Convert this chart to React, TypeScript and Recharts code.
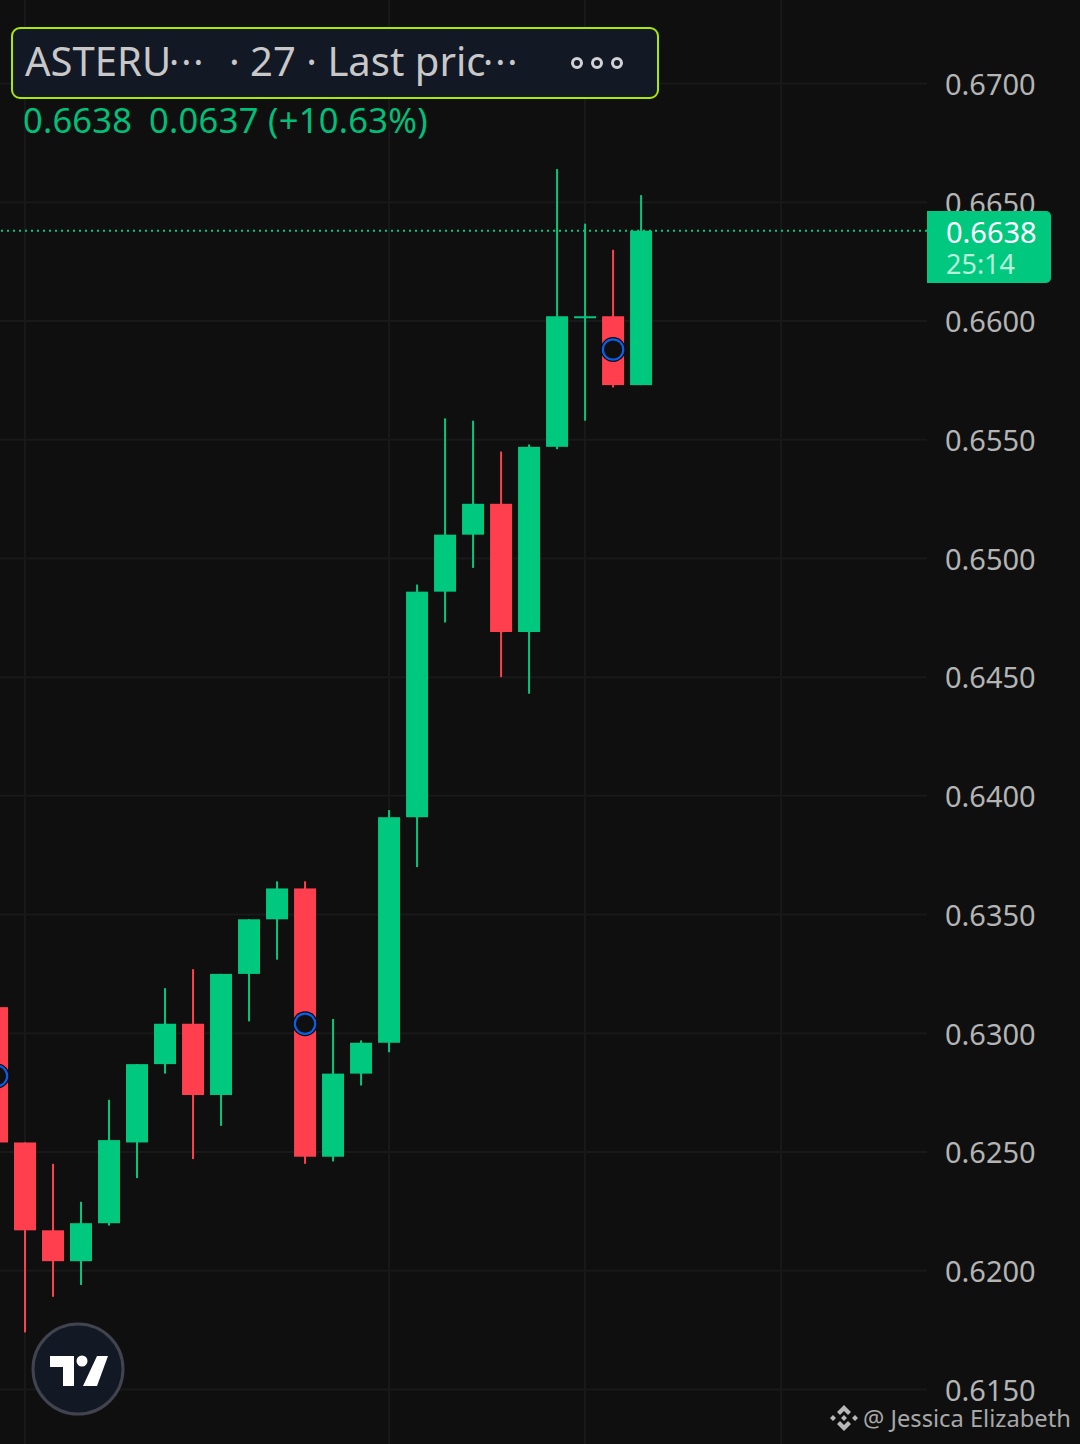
import { Bar, CartesianGrid, ComposedChart, ReferenceDot, ReferenceLine, XAxis, YAxis } from "recharts";

const FONT = '"Noto Sans", sans-serif';
const GREEN = "#00c97f";
const RED = "#ff3f4e";
const BG = "#0f0f0f";

const opens = [0.6311, 0.6254, 0.6217, 0.6204, 0.622, 0.6254, 0.6287, 0.6304, 0.6274, 0.6325, 0.6348, 0.6361, 0.6248, 0.6283, 0.6296, 0.6391, 0.6486, 0.651, 0.6523, 0.6469, 0.6547, 0.6602, 0.6602, 0.6573];
const highs = [0.6311, 0.6254, 0.6245, 0.6229, 0.6272, 0.6287, 0.6319, 0.6327, 0.6325, 0.6348, 0.6364, 0.6364, 0.6306, 0.6297, 0.6394, 0.6489, 0.6559, 0.6558, 0.6545, 0.6548, 0.6664, 0.6641, 0.663, 0.6653];
const lows = [0.6253, 0.6174, 0.6189, 0.6194, 0.6219, 0.6239, 0.6283, 0.6247, 0.6261, 0.6305, 0.6331, 0.6245, 0.6246, 0.6278, 0.6292, 0.637, 0.6473, 0.6496, 0.645, 0.6443, 0.6546, 0.6558, 0.6572, 0.6573];
const closes = [0.6254, 0.6217, 0.6204, 0.622, 0.6255, 0.6287, 0.6304, 0.6274, 0.6325, 0.6348, 0.6361, 0.6248, 0.6283, 0.6296, 0.6391, 0.6486, 0.651, 0.6523, 0.6469, 0.6547, 0.6602, 0.6602, 0.6573, 0.6638];

const priceTicks = [0.615, 0.62, 0.625, 0.63, 0.635, 0.64, 0.645, 0.65, 0.655, 0.66, 0.665, 0.67];
const gridIndexes = [1, 14, 21, 28];
const markerIndexes = [0, 11, 22];
const markerPrices = [0.6282, 0.6304, 0.6588];
const lastPrice = 0.6638;

const candles = opens.map((open, i) => ({
  index: i,
  open,
  high: highs[i],
  low: lows[i],
  close: closes[i],
  range: [lows[i], highs[i]],
}));

function Candle(props: any) {
  const { x, y, width, height, payload } = props;
  const { open, close, high, low } = payload;
  const color = close >= open ? GREEN : RED;
  const toY = (price: number) => y + ((high - price) / (high - low)) * height;
  const top = toY(Math.max(open, close));
  const bottom = toY(Math.min(open, close));
  return (
    <g>
      <rect x={x + width / 2 - 1} y={y} width={2} height={height} fill={color} />
      <rect x={x} y={top} width={width} height={Math.max(bottom - top, 2)} fill={color} />
    </g>
  );
}

function Marker(props: any) {
  const { cx, cy } = props;
  return (
    <g>
      <circle cx={cx} cy={cy} r={12.5} fill="#06080c" />
      <circle cx={cx} cy={cy} r={10.2} fill={BG} stroke="#0b5fe6" strokeWidth={2.2} />
    </g>
  );
}

function Overlay() {
  const label = { position: "absolute", whiteSpace: "pre", fontFamily: FONT } as const;
  return (
    <>
      <div
        style={{
          position: "absolute",
          left: 11,
          top: 27,
          width: 644,
          height: 68,
          border: "2px solid #a9e800",
          borderRadius: 9,
          background: "#131825",
        }}
      />
      <div style={{ ...label, left: 25, top: 35, fontSize: 40, lineHeight: "52px", color: "#c8c8c8" }}>ASTERU</div>
      <div style={{ ...label, left: 169, top: 35, fontSize: 38, lineHeight: "52px", letterSpacing: 2, color: "#c8c8c8" }}>···</div>
      <div style={{ ...label, left: 229, top: 35, fontSize: 40, lineHeight: "52px", color: "#c8c8c8" }}>· 27 · Last pric</div>
      <div style={{ ...label, left: 483, top: 35, fontSize: 38, lineHeight: "52px", letterSpacing: 2, color: "#c8c8c8" }}>···</div>
      <svg style={{ position: "absolute", left: 565, top: 50 }} width={66} height={26}>
        {[12, 32, 52].map((cx) => (
          <circle key={cx} cx={cx} cy={13} r={4.5} fill="none" stroke="#d2d2d6" strokeWidth={3} />
        ))}
      </svg>
      <div style={{ ...label, left: 23, top: 97, fontSize: 34.5, lineHeight: "46px", letterSpacing: 0.2, color: "#00bf79" }}>0.6638</div>
      <div style={{ ...label, left: 149, top: 97, fontSize: 34.5, lineHeight: "46px", letterSpacing: 0.3, color: "#00bf79" }}>0.0637 (+10.63%)</div>

      <div
        style={{
          position: "absolute",
          left: 927,
          top: 211,
          width: 124,
          height: 72,
          background: GREEN,
          borderRadius: "0 5px 5px 0",
        }}
      />
      <div style={{ ...label, left: 946, top: 212, fontSize: 29, lineHeight: "40px", color: "#ffffff" }}>0.6638</div>
      <div style={{ ...label, left: 946, top: 245, fontSize: 27, lineHeight: "38px", color: "#b8f0da" }}>25:14</div>

      <svg style={{ position: "absolute", left: 30, top: 1321 }} width={96} height={96} viewBox="30 1321 96 96">
        <circle cx={78} cy={1369} r={45} fill="#131825" stroke="#41444e" strokeWidth={3} />
        <path d="M50 1356H74V1386H63V1367H50Z" fill="#ffffff" />
        <circle cx={82} cy={1361} r={5.5} fill="#ffffff" />
        <path d="M97 1356H108L97 1386H83Z" fill="#ffffff" />
      </svg>

      <svg style={{ position: "absolute", left: 830, top: 1404 }} width={28} height={28} viewBox="0 0 28 28">
        <path d="M14 1L21 8L18 11L14 7L10 11L7 8Z M14 27L21 20L18 17L14 21L10 17L7 20Z M0 14L3 11L6 14L3 17Z M28 14L25 11L22 14L25 17Z M14 11L17 14L14 17L11 14Z" fill="#b8b8b8" />
      </svg>
      <div style={{ ...label, left: 863, top: 1401, fontSize: 23.7, lineHeight: "34px", color: "#a8a8a8" }}>@ Jessica Elizabeth</div>
    </>
  );
}

export default function App() {
  return (
    <div style={{ position: "absolute", left: 0, top: 0, width: 1080, height: 1444, background: BG, overflow: "hidden" }}>
      <ComposedChart width={1080} height={1444} data={candles} margin={{ top: 0, right: 0, bottom: 0, left: 0 }}>
        <CartesianGrid stroke="#191919" strokeWidth={2} verticalValues={gridIndexes} horizontalValues={priceTicks} />
        <XAxis type="number" dataKey="index" domain={[0.107, 33.21]} allowDataOverflow hide ticks={gridIndexes} />
        <YAxis
          orientation="right"
          width={153}
          domain={[0.6127, 0.67352]}
          allowDataOverflow
          ticks={priceTicks}
          interval={0}
          axisLine={false}
          tickLine={false}
          tickMargin={12}
          tick={{ fill: "#b4b4b4", fontSize: 29, fontFamily: FONT, dy: 1 }}
          tickFormatter={(v: number) => v.toFixed(4)}
        />
        <ReferenceLine y={lastPrice} stroke={GREEN} strokeWidth={2} strokeDasharray="2 4" />
        <Bar dataKey="range" barSize={22} shape={<Candle />} isAnimationActive={false} />
        {markerIndexes.map((idx, i) => (
          <ReferenceDot key={idx} x={idx} y={markerPrices[i]} r={10} ifOverflow="visible" shape={<Marker />} />
        ))}
      </ComposedChart>
      <Overlay />
    </div>
  );
}
